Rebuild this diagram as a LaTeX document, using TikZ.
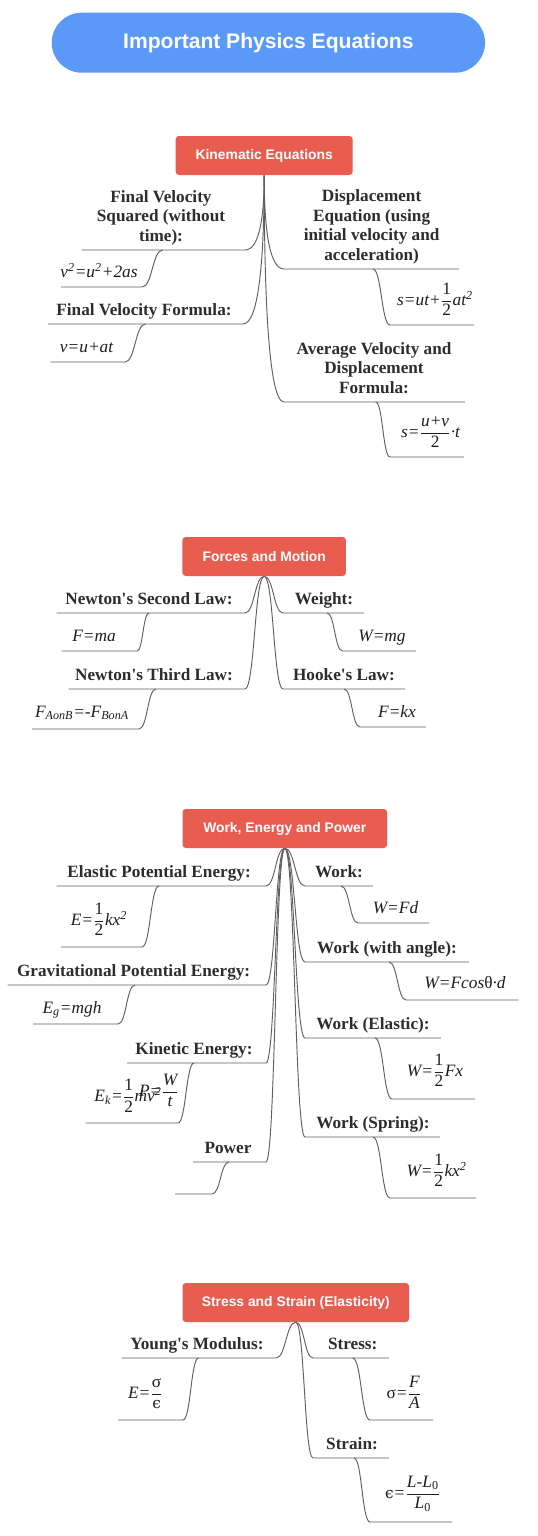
\documentclass[tikz,border=0pt]{standalone}
\usepackage{fontspec}
\setmainfont{Liberation Serif}
\setsansfont{Liberation Sans}
\newfontfamily\epsfont{DejaVu Serif}
\usetikzlibrary{calc}
\definecolor{titleblue}{RGB}{91,153,249}
\definecolor{headred}{RGB}{232,93,80}
\definecolor{linegray}{RGB}{95,95,95}
\definecolor{labtext}{RGB}{45,45,45}
\definecolor{formtext}{RGB}{30,30,30}
\newcommand\lab[1]{\begin{tabular}[b]{@{}c@{}}#1\end{tabular}}
\newcommand\fr[2]{$\displaystyle\frac{\mbox{#1}}{\mbox{#2}}$}
\newcommand\up[1]{\textsuperscript{#1}}
\newcommand\dn[1]{\textsubscript{#1}}
\newcommand\eps{{\epsfont\upshape\fontsize{11.5}{13}\selectfont ϵ}}
\newcommand\vconn[3]{\draw[mmconn] let \p1=(#1),\p2=(#2) in (\p1) .. controls (\x1,{0.5*(\y1+\y2)}) and ({\x1+0.2*(\x2-\x1)},\y2) .. (\p2) -- (#3);}
\newcommand\sconn[3]{\draw[mmconn] let \p1=(#1),\p2=(#2) in (\p1) .. controls ({0.5*(\x1+\x2)},\y1) and ({0.5*(\x1+\x2)},\y2) .. (\p2) -- (#3);}
\begin{document}
\begin{tikzpicture}[x=0.75pt,y=-0.75pt,
  every node/.style={inner sep=0pt},
  mmconn/.style={draw=linegray,line width=0.7pt},
  mmtitle/.style={fill=titleblue,rounded corners=22.5pt,minimum width=325pt,minimum height=45pt,text=white,font=\sffamily\bfseries\fontsize{15.8}{18}\selectfont},
  mmhead/.style={fill=headred,rounded corners=2.5pt,minimum height=29.25pt,text=white,font=\sffamily\bfseries\fontsize{10.4}{12}\selectfont},
  mmlbl/.style={anchor=base,text=labtext,font=\bfseries\fontsize{12.9}{14.6}\selectfont},
  mmform/.style={anchor=base,text=formtext,font=\itshape\fontsize{13}{15}\selectfont}]
\useasboundingbox (0,0) rectangle (537,1536);
\fill[white] (0,0) rectangle (537,1536);
\node[mmtitle] (title) at (268.4,42.7) {Important Physics Equations};

% ---------------- Kinematic Equations
\node[mmhead,minimum width=132.75pt] (kin) at (264.2,155.5) {Kinematic Equations};
\node[mmlbl] (kl1) at (161,241) {\lab{Final Velocity\\Squared (without\\time):}};
\coordinate (kl1e) at (245,250); \coordinate (kl1o) at (81.5,250);
\coordinate (kl1s) at (162.7,250); \coordinate (kl1fe) at (142,287); \coordinate (kl1fo) at (61,287);
\node[mmform] (kf1) at (99,277) {v\up{2}=u\up{2}+2as};
\vconn{kin.south}{kl1e}{kl1o}
\sconn{kl1s}{kl1fe}{kl1fo}

\node[mmlbl] (kl2) at (144,315) {Final Velocity Formula:};
\coordinate (kl2e) at (243,324); \coordinate (kl2o) at (48,324);
\coordinate (kl2s) at (145.5,324); \coordinate (kl2fe) at (125,362); \coordinate (kl2fo) at (50.7,362);
\node[mmform] (kf2) at (86.6,352) {v=u+at};
\vconn{kin.south}{kl2e}{kl2o}
\sconn{kl2s}{kl2fe}{kl2fo}

\node[mmlbl] (kr1) at (371.6,260) {\lab{Displacement\\Equation (using\\initial velocity and\\acceleration)}};
\coordinate (kr1e) at (284,269); \coordinate (kr1o) at (459,269);
\coordinate (kr1s) at (373,269); \coordinate (kr1fe) at (390,325); \coordinate (kr1fo) at (474,325);
\node[mmform] (kf3) at (435,305) {s=ut+\fr{\upshape 1}{\upshape 2}at\up{2}};
\vconn{kin.south}{kr1e}{kr1o}
\sconn{kr1s}{kr1fe}{kr1fo}

\node[mmlbl] (kr2) at (374,393) {\lab{Average Velocity and\\Displacement\\Formula:}};
\coordinate (kr2e) at (284,402); \coordinate (kr2o) at (465,402);
\coordinate (kr2s) at (375.7,402); \coordinate (kr2fe) at (390,457); \coordinate (kr2fo) at (464,457);
\node[mmform] (kf4) at (430.5,437) {s=\fr{u+v}{\upshape 2}·t};
\vconn{kin.south}{kr2e}{kr2o}
\sconn{kr2s}{kr2fe}{kr2fo}

% ---------------- Forces and Motion
\node[mmhead,minimum width=122.6pt] (frc) at (264.2,556.5) {Forces and Motion};
\node[mmlbl] (fl1) at (149,604) {Newton\textquotesingle s Second Law:};
\coordinate (fl1e) at (245,613); \coordinate (fl1o) at (56.5,613);
\coordinate (fl1s) at (149,613); \coordinate (fl1fe) at (137,651); \coordinate (fl1fo) at (61.6,651);
\node[mmform] (ff1) at (94,641) {F=ma};
\sconn{frc.south}{fl1e}{fl1o}
\sconn{fl1s}{fl1fe}{fl1fo}

\node[mmlbl] (fl2) at (154,680) {Newton\textquotesingle s Third Law:};
\coordinate (fl2e) at (245,689); \coordinate (fl2o) at (68.5,689);
\coordinate (fl2s) at (156,689); \coordinate (fl2fe) at (139,729); \coordinate (fl2fo) at (32,729);
\node[mmform] (ff2) at (82,717) {F\dn{AonB}=-F\dn{BonA}};
\sconn{frc.south}{fl2e}{fl2o}
\sconn{fl2s}{fl2fe}{fl2fo}

\node[mmlbl] (fr1) at (324,604) {Weight:};
\coordinate (fr1e) at (283,613); \coordinate (fr1o) at (364,613);
\coordinate (fr1s) at (327,613); \coordinate (fr1fe) at (342.5,651); \coordinate (fr1fo) at (416,651);
\node[mmform] (ff3) at (382,641) {W=mg};
\sconn{frc.south}{fr1e}{fr1o}
\sconn{fr1s}{fr1fe}{fr1fo}

\node[mmlbl] (fr2) at (344,680) {Hooke\textquotesingle s Law:};
\coordinate (fr2e) at (283,689); \coordinate (fr2o) at (405,689);
\coordinate (fr2s) at (344,689); \coordinate (fr2fe) at (360,727); \coordinate (fr2fo) at (426,727);
\node[mmform] (ff4) at (397,717) {F=kx};
\sconn{frc.south}{fr2e}{fr2o}
\sconn{fr2s}{fr2fe}{fr2fo}

% ---------------- Work, Energy and Power
\node[mmhead,minimum width=153.4pt] (wep) at (284.8,828.5) {Work, Energy and Power};
\node[mmlbl] (wl1) at (159,877) {Elastic Potential Energy:};
\coordinate (wl1e) at (266,886); \coordinate (wl1o) at (56.5,886);
\coordinate (wl1s) at (159,886); \coordinate (wl1fe) at (142,947); \coordinate (wl1fo) at (61,947);
\node[mmform] (wf1) at (99,925) {E=\fr{\upshape 1}{\upshape 2}kx\up{2}};
\sconn{wep.south}{wl1e}{wl1o}
\sconn{wl1s}{wl1fe}{wl1fo}

\node[mmlbl] (wl2) at (133.6,976) {Gravitational Potential Energy:};
\coordinate (wl2e) at (266,985); \coordinate (wl2o) at (7.5,985);
\coordinate (wl2s) at (135,985); \coordinate (wl2fe) at (118,1024); \coordinate (wl2fo) at (33,1024);
\node[mmform] (wf2) at (72,1013) {E\dn{g}=mgh};
\sconn{wep.south}{wl2e}{wl2o}
\sconn{wl2s}{wl2fe}{wl2fo}

\node[mmlbl] (wl3) at (194,1054) {Kinetic Energy:};
\coordinate (wl3e) at (266,1063); \coordinate (wl3o) at (127,1063);
\coordinate (wl3s) at (194,1063); \coordinate (wl3fe) at (178,1123); \coordinate (wl3fo) at (85.6,1123);
\node[mmform] (wf3) at (128,1101.7) {E\dn{k}=\fr{\upshape 1}{\upshape 2}mv\up{2}};
\node[mmform] (wf3b) at (159,1096) {P=\fr{W}{t}};
\sconn{wep.south}{wl3e}{wl3o}
\sconn{wl3s}{wl3fe}{wl3fo}

\node[mmlbl] (wl4) at (228,1153) {Power};
\coordinate (wl4e) at (266,1162); \coordinate (wl4o) at (193,1162);
\coordinate (wl4s) at (229,1162); \coordinate (wl4fe) at (212,1194); \coordinate (wl4fo) at (175,1194);
\sconn{wep.south}{wl4e}{wl4o}
\sconn{wl4s}{wl4fe}{wl4fo}

\node[mmlbl] (wr1) at (339,877) {Work:};
\coordinate (wr1e) at (305,886); \coordinate (wr1o) at (373,886);
\coordinate (wr1s) at (341,886); \coordinate (wr1fe) at (358,923); \coordinate (wr1fo) at (429,923);
\node[mmform] (wf4) at (395.5,913) {W=Fd};
\sconn{wep.south}{wr1e}{wr1o}
\sconn{wr1s}{wr1fe}{wr1fo}

\node[mmlbl] (wr2) at (387,953) {Work (with angle):};
\coordinate (wr2e) at (305,962); \coordinate (wr2o) at (469,962);
\coordinate (wr2s) at (389,962); \coordinate (wr2fe) at (406,1000); \coordinate (wr2fo) at (518,1000);
\node[mmform] (wf5) at (465,988) {W=Fcos{\upshape θ}·d};
\sconn{wep.south}{wr2e}{wr2o}
\sconn{wr2s}{wr2fe}{wr2fo}

\node[mmlbl] (wr3) at (373,1029) {Work (Elastic):};
\coordinate (wr3e) at (305,1038); \coordinate (wr3o) at (441,1038);
\coordinate (wr3s) at (375,1038); \coordinate (wr3fe) at (392,1099); \coordinate (wr3fo) at (475,1099);
\node[mmform] (wf6) at (435,1076) {W=\fr{\upshape 1}{\upshape 2}Fx};
\sconn{wep.south}{wr3e}{wr3o}
\sconn{wr3s}{wr3fe}{wr3fo}

\node[mmlbl] (wr4) at (373,1128) {Work (Spring):};
\coordinate (wr4e) at (305,1137); \coordinate (wr4o) at (440,1137);
\coordinate (wr4s) at (373,1137); \coordinate (wr4fe) at (390,1198); \coordinate (wr4fo) at (476,1198);
\node[mmform] (wf7) at (436.6,1176) {W=\fr{\upshape 1}{\upshape 2}kx\up{2}};
\sconn{wep.south}{wr4e}{wr4o}
\sconn{wr4s}{wr4fe}{wr4fo}

% ---------------- Stress and Strain
\node[mmhead,minimum width=169.9pt] (sas) at (295.8,1302.5) {Stress and Strain (Elasticity)};
\node[mmlbl] (sl1) at (197,1349) {Young\textquotesingle s Modulus:};
\coordinate (sl1e) at (276,1358); \coordinate (sl1o) at (121.6,1358);
\coordinate (sl1s) at (198.6,1358); \coordinate (sl1fe) at (183,1420); \coordinate (sl1fo) at (118,1420);
\node[mmform] (sf1) at (145.5,1398) {E=\fr{\upshape σ}{\eps}};
\sconn{sas.south}{sl1e}{sl1o}
\sconn{sl1s}{sl1fe}{sl1fo}

\node[mmlbl] (sr1) at (352.7,1349) {Stress:};
\coordinate (sr1e) at (313,1358); \coordinate (sr1o) at (389,1358);
\coordinate (sr1s) at (352.7,1358); \coordinate (sr1fe) at (370,1420); \coordinate (sr1fo) at (433,1420);
\node[mmform] (sf2) at (404,1398) {{\upshape σ}=\fr{F}{A}};
\sconn{sas.south}{sr1e}{sr1o}
\sconn{sr1s}{sr1fe}{sr1fo}

\node[mmlbl] (sr2) at (352,1449) {Strain:};
\coordinate (sr2e) at (313,1458); \coordinate (sr2o) at (389,1458);
\coordinate (sr2s) at (354,1458); \coordinate (sr2fe) at (370,1522); \coordinate (sr2fo) at (452,1522);
\node[mmform] (sf3) at (412.7,1498) {\eps=\fr{L-L\dn{\upshape 0}}{L\dn{\upshape 0}}};
\sconn{sas.south}{sr2e}{sr2o}
\sconn{sr2s}{sr2fe}{sr2fo}
\end{tikzpicture}
\end{document}
